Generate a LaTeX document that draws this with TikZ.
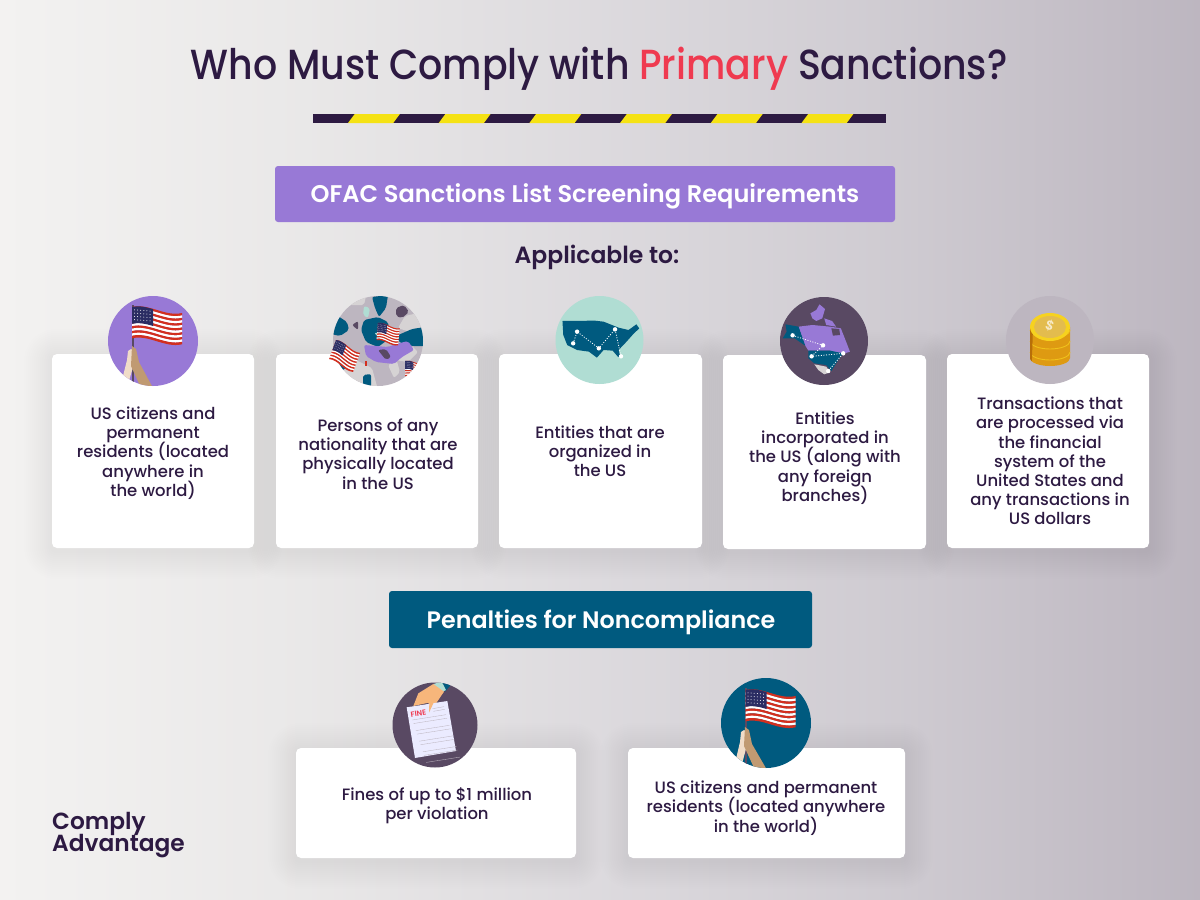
\documentclass[tikz,border=0pt]{standalone}
\usepackage{fontspec}
\setmainfont{Poppins}
\newfontfamily\titlefont[FakeStretch=0.9]{Poppins Medium}
\newfontfamily\medfont{Poppins SemiBold}
\newfontfamily\bodyfont{Poppins Medium}
\lineskiplimit=-8pt
\definecolor{ink}{HTML}{2D1A42}
\definecolor{redp}{HTML}{EF3A50}
\definecolor{purp}{HTML}{9879D6}
\definecolor{teald}{HTML}{005A7F}
\definecolor{mint}{HTML}{B0DDD3}
\definecolor{plum}{HTML}{594963}
\definecolor{greyc}{HTML}{BDB6C0}
\definecolor{greyl}{HTML}{D6D3D4}
\definecolor{yel}{HTML}{F5E214}
\definecolor{fred}{HTML}{D22F1F}
\definecolor{fblue}{HTML}{2B2D63}
\definecolor{tan}{HTML}{C09A72}
\definecolor{skin}{HTML}{F0DCC8}
\definecolor{peach}{HTML}{F7B67B}
\definecolor{gold}{HTML}{DE9A12}
\definecolor{goldd}{HTML}{B86F08}
\definecolor{goldr}{HTML}{F6D21F}
\definecolor{goldi}{HTML}{E3BC4E}
\pgfdeclarehorizontalshading{pagebg}{100bp}{
  rgb(0bp)=(0.953,0.949,0.945);
  rgb(25bp)=(0.953,0.949,0.945);
  rgb(37.5bp)=(0.915,0.91,0.91);
  rgb(50bp)=(0.865,0.855,0.87);
  rgb(62.5bp)=(0.81,0.795,0.82);
  rgb(75bp)=(0.74,0.714,0.753);
  rgb(100bp)=(0.74,0.714,0.753)}
\tikzset{
  x=1pt,y=-1pt,
  cardbox/.style={fill=white,rounded corners=5pt,draw=none},
  cardtext/.style={font=\bodyfont\fontsize{16.45}{19.2}\selectfont,text=ink,align=center,inner sep=0pt},
  banner/.style={rounded corners=3pt,draw=none},
  bannertext/.style={font=\medfont\fontsize{24.1}{30}\selectfont,text=white,inner sep=0pt},
  dotline/.style={white,line width=0.8pt,dash pattern=on 1pt off 1.6pt},
  citydot/.style={fill=white,draw=none},
  blob/.style={rounded corners=2pt},
}
% soft shadow: x1 y1 x2 y2
\newcommand{\softshadow}[4]{%
  \foreach \s in {2,4,...,28}{%
    \fill[black,opacity=0.0028,rounded corners=\s pt+4pt] (#1-\s,#2-\s+3) rectangle (#3+\s,#4+\s+3);
  }}
% flag: at origin, 50 wide, 31 tall, waved
\newcommand{\usflag}{%
  \foreach \k in {0,...,12}{%
    \pgfmathsetmacro{\ya}{\k*2.4}\pgfmathsetmacro{\yb}{\ya+2.5}
    \pgfmathparse{mod(\k,2)==0?"fred":"white"}\edef\cc{\pgfmathresult}
    \fill[\cc] (0,\ya) .. controls (17,\ya-4) and (33,\ya+10) .. (50,\ya+6) -- (50,\yb+6) .. controls (33,\yb+10) and (17,\yb-4) .. (0,\yb) -- cycle;
  }
  \fill[fblue] (0,0) .. controls (7,-1.8) and (14,0) .. (21,2.2) -- (21,19) .. controls (14,16.8) and (7,15) .. (0,16.8) -- cycle;
  \foreach \i in {1,...,6}{\foreach \j in {1,...,4}{%
    \fill[white] (\i*3.1-0.6,\j*3.3-0.8+\i*0.25) circle (0.5);
  }}
}
\begin{document}
\begin{tikzpicture}
\useasboundingbox (0,0) rectangle (1200,900);
\shade[shading=pagebg] (0,0) rectangle (1200,900);

% title
\node[font=\titlefont\fontsize{42.1}{50}\selectfont,text=ink,inner sep=0pt,anchor=center] (title) at (599,69) {Who Must Comply with \textcolor{redp}{Primary} Sanctions?};
% hazard bar
\fill[ink] (313,114) rectangle (886,123);
\foreach \k in {0,...,5}{
  \fill[yel] (348+\k*90.7,123) -- (354.7+\k*90.7,114) -- (399.9+\k*90.7,114) -- (393.2+\k*90.7,123) -- cycle;
}
% banner 1
\fill[banner,purp] (275,166) rectangle (895,222);
\node[bannertext] (ofac) at (585,196) {OFAC Sanctions List Screening Requirements};
\node[font=\medfont\fontsize{23.5}{28}\selectfont,text=ink,inner sep=0pt] (applic) at (597,257) {Applicable to:};

% cards row
\softshadow{52}{354}{254}{548}
\softshadow{276}{354}{478}{548}
\softshadow{499}{354}{702}{548}
\softshadow{723}{355}{926}{549}
\softshadow{947}{354}{1149}{548}
\softshadow{296}{748}{576}{858}
\softshadow{628}{748}{905}{858}
\fill[cardbox] (52,354) rectangle (254,548);
\fill[cardbox] (276,354) rectangle (478,548);
\fill[cardbox] (499,354) rectangle (702,548);
\fill[cardbox] (723,355) rectangle (926,549);
\fill[cardbox] (947,354) rectangle (1149,548);
\fill[cardbox] (296,748) rectangle (576,858);
\fill[cardbox] (628,748) rectangle (905,858);

% circle 1: flag
\fill[purp] (153,341) circle (45);
\begin{scope}
\clip (153,341) circle (45);
\draw[plum,line width=1.8pt] (133,305) -- (133,386);
\fill[skin] (131,349) -- (128,351) -- (127,360) -- (122,380) -- (128,384) -- (134,364) -- (136,352) -- cycle;
\fill[tan] (132,346) -- (136,349) -- (139,362) -- (153,388) -- (141,388) -- (131,366) -- cycle;
\end{scope}
\begin{scope}[shift={(132,307)}]\usflag\end{scope}

% circle 2: europe
\fill[greyc] (378,341) circle (45);
\begin{scope}
\clip (378,341) circle (45);
\fill[blob,greyl] (345,298) -- (366,296) -- (364,305) -- (350,305) -- cycle;
\fill[blob,greyl] (333,368) -- (352,358) -- (372,368) -- (378,390) -- (335,390) -- cycle;
\fill[blob,greyl] (405,316) -- (418,313) -- (424,328) -- (410,332) -- (398,328) -- cycle;
\fill[blob,greyl] (392,345) -- (412,346) -- (418,352) -- (408,362) -- (395,360) -- cycle;
\fill[blob,greyl] (388,365) -- (396,358) -- (400,372) -- (394,378) -- cycle;
\fill[blob,teald] (372,297) -- (388,295) -- (386,308) -- (379,317) -- (375,308) -- cycle;
\fill[blob,teald] (364,320) -- (378,317) -- (388,322) -- (390,338) -- (378,347) -- (366,342) -- (361,330) -- cycle;
\fill[blob,teald] (396,336) -- (412,329) -- (425,327) -- (425,346) -- (412,346) -- (400,343) -- cycle;
\fill[blob,teald] (338,316) -- (347,322) -- (349,330) -- (340,336) -- (331,334) -- cycle;
\fill[blob,teald] (331,356) -- (352,361) -- (346,368) -- (338,373) -- (330,368) -- cycle;
\fill[blob,teald] (363,375) -- (371,374) -- (371,387) -- (363,387) -- cycle;
\fill[blob,teald] (388,352) -- (396,352) -- (394,362) -- (388,360) -- cycle;
\fill[blob,mint] (364,306) -- (370,308) -- (368,318) -- (363,315) -- cycle;
\fill[blob,mint] (374,333) -- (388,332) -- (396,338) -- (385,342) -- cycle;
\fill[blob,purp] (364,345) -- (388,347) -- (396,344) -- (408,341) -- (414,350) -- (402,357) -- (394,364) -- (376,362) -- (366,356) -- cycle;
\fill[blob,plum] (396,308) -- (404,305) -- (409,312) -- (402,318) -- (396,316) -- cycle;
\fill[blob,plum] (378,350) -- (386,349) -- (391,357) -- (386,360) -- cycle;
\fill[blob,plum] (352,325) -- (358,321) -- (358,330) -- cycle;
\fill[fred] (365,361) rectangle (367,366);
\end{scope}
\begin{scope}[shift={(336,340)},rotate=-20,scale=0.54,yscale=1.2]\usflag\end{scope}
\begin{scope}[shift={(378,323)},rotate=-5,scale=0.44,yscale=1.25]\usflag\end{scope}
\begin{scope}
\clip (378,341) circle (45);
\begin{scope}[shift={(405,361)},scale=0.4,yscale=1.2]\usflag\end{scope}
\end{scope}

% circle 3: US map
\fill[mint] (599.5,340) circle (44);
\begin{scope}[shift={(500,285)},x=0.3954pt,y=-0.3333pt]
\fill[teald] (158,108) -- (240,107) -- (262,110) -- (300,128) -- (325,135) -- (345,118) -- (352,130) -- (335,150) -- (320,170) -- (300,195) -- (305,218) -- (298,215) -- (285,197) -- (262,195) -- (245,218) -- (225,200) -- (195,195) -- (170,180) -- (160,150) -- cycle;
\coordinate (a1) at (195,140);\coordinate (a2) at (185,175);\coordinate (a3) at (250,190);\coordinate (a4) at (291,133);\coordinate (a5) at (306,214);
\draw[dotline] (a2) -- (a1) -- (a3) -- (a4) -- (a5);
\end{scope}
\foreach \p in {a1,a2,a3,a4,a5}{\fill[citydot] (\p) circle (2.2);}

% circle 4: N. America
\fill[plum] (824,341) circle (44);
\begin{scope}[shift={(500,285)},x=0.3954pt,y=-0.3333pt]
\fill[purp] (755,125) -- (790,120) -- (835,125) -- (862,130) -- (872,160) -- (885,200) -- (860,210) -- (835,197) -- (780,197) -- (770,178) -- cycle;
\fill[purp] (785,85) -- (800,75) -- (808,58) -- (822,72) -- (815,100) -- (800,108) -- (790,100) -- cycle;
\fill[purp] (820,100) -- (840,108) -- (850,125) -- (825,120) -- cycle;
\fill[plum] (838,130) -- (858,132) -- (860,150) -- (842,152) -- cycle;
\fill[teald] (722,118) -- (755,125) -- (772,182) -- (745,160) -- (715,160) -- (725,140) -- cycle;
\fill[teald] (780,197) -- (835,197) -- (868,205) -- (850,235) -- (838,258) -- (825,240) -- (795,235) -- (780,220) -- cycle;
\fill[greyl] (795,238) -- (825,245) -- (835,262) -- (820,268) -- (805,255) -- cycle;
\coordinate (b1) at (740,151);\coordinate (b2) at (817,181);\coordinate (b3) at (788,214);\coordinate (b4) at (868,205);\coordinate (b5) at (830,258);
\draw[dotline] (b1) -- (b2) -- (b3) -- (b4) -- (b5);
\end{scope}
\foreach \p in {b1,b2,b3,b4,b5}{\fill[citydot] (\p) circle (2.2);}

% circle 5: coins
\fill[greyc] (1050,340) circle (44);
\fill[gold] (1030,327) -- (1030,358) arc[start angle=180,end angle=0,x radius=20,y radius=8] -- (1070,327) -- cycle;
\foreach \yy in {338,349,360}{\draw[goldr!70!gold,line width=0.9pt] (1030,\yy-8) arc[start angle=180,end angle=0,x radius=20,y radius=8];}
\fill[goldd] (1030,327) -- (1030,358) arc[start angle=180,end angle=155,x radius=20,y radius=8] -- (1033,327) -- cycle;
\fill[goldr] (1050,327) ellipse[x radius=20,y radius=14];
\fill[goldi] (1050,327) ellipse[x radius=16,y radius=11];
\node[font=\medfont\fontsize{13}{13}\selectfont,text=white!70!goldi,rotate=-20,inner sep=0pt] (dollar) at (1050,326) {\$};

% texts row
\node[cardtext] (t1) at (153,453) {US citizens and\\permanent\\residents (located\\anywhere in\\the world)};
\node[cardtext] (t2) at (378,454) {Persons of any\\nationality that are\\physically located\\in the US};
\node[cardtext] (t3) at (600,451) {Entities that are\\organized in\\the US};
\node[cardtext] (t4) at (825,458) {Entities\\incorporated in\\the US (along with\\any foreign\\branches)};
\node[cardtext] (t5) at (1050,461) {Transactions that\\are processed via\\the financial\\system of the\\United States and\\any transactions in\\US dollars};

% banner 2
\fill[banner,teald] (389,591) rectangle (812,648);
\node[bannertext,font=\medfont\fontsize{23.8}{30}\selectfont] (pen) at (601,622.5) {Penalties for Noncompliance};

% fine circle
\fill[plum] (435,725) circle (42.5);
\begin{scope}
\clip (435,725) circle (42.5);
\begin{scope}[shift={(370,670)},x=0.3333pt,y=-0.3333pt]
\fill[teald] (205,30) -- (255,30) -- (225,65) -- cycle;
\fill[mint] (190,42) -- (215,35) -- (228,60) -- (210,70) -- cycle;
\fill[peach] (190,42) -- (222,65) -- (205,90) -- (178,130) -- (176,98) -- (130,108) -- (145,70) -- cycle;
\end{scope}
\end{scope}
\begin{scope}[shift={(370,670)},x=0.3333pt,y=-0.3333pt]
\fill[white!92!blue] (110,112) -- (232,93) -- (258,243) -- (135,264) -- cycle;
\fill[peach] (178,100) -- (192,96) -- (177,128) -- cycle;
\foreach \k in {0,1,3,4,6,7,9,10,12}{
  \draw[greyc,line width=0.35pt] (127+\k*3.5,150+\k*10.6) -- (228+\k*3.5,134+\k*10.6);
}
\draw[greyc,line width=0.35pt] (188,116) -- (222,110) (190,124) -- (224,118);
\end{scope}
\node[font=\medfont\fontsize{7.5}{8}\selectfont,text=redp,rotate=9,inner sep=0pt] (fine) at (418.5,713.5) {FINE};

% flag circle 2
\fill[teald] (766,723) circle (45);
\begin{scope}
\clip (766,723) circle (45);
\draw[plum,line width=1.8pt] (746,688) -- (746,770);
\fill[skin] (744,730) -- (741,732) -- (740,742) -- (736,759) -- (742,764) -- (747,745) -- (749,733) -- cycle;
\fill[tan] (745,727) -- (749,730) -- (752,744) -- (767,770) -- (755,770) -- (744,746) -- cycle;
\end{scope}
\begin{scope}[shift={(745.5,690)}]\usflag\end{scope}

\node[cardtext] (t6) at (437,806) {Fines of up to \$1 million\\per violation};
\node[cardtext] (t7) at (766,808) {US citizens and permanent\\residents (located anywhere\\in the world)};

% logo
\node[font=\medfont\fontsize{23.3}{21.2}\selectfont,text=ink,align=left,inner sep=0pt,anchor=west] (logo) at (52,835) {Comply\\Advantage};
\end{tikzpicture}
\end{document}
